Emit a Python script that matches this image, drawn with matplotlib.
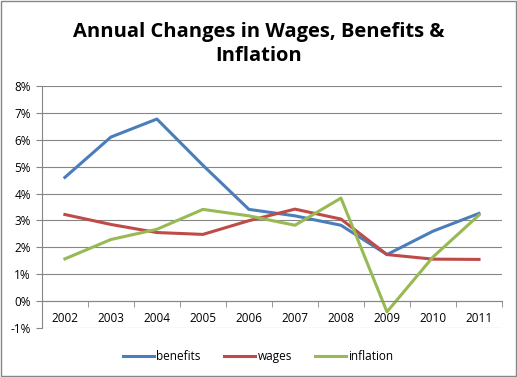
import numpy as np
import matplotlib
matplotlib.use("Agg")
import matplotlib.pyplot as plt
import matplotlib.ticker as mticker

# data (percent)
years = ["2002", "2003", "2004", "2005", "2006", "2007", "2008", "2009", "2010", "2011"]
benefits = [4.6, 6.1, 6.77, 5.05, 3.41, 3.17, 2.82, 1.73, 2.6, 3.26]
wages = [3.22, 2.85, 2.55, 2.48, 2.99, 3.42, 3.05, 1.73, 1.56, 1.55]
inflation = [1.57, 2.29, 2.67, 3.41, 3.17, 2.82, 3.83, -0.4, 1.64, 3.2]

plt.rcParams['font.family'] = ['Open Sans', 'DejaVu Sans']

fig = plt.figure(figsize=(5.17, 3.77), dpi=100)
ax = fig.add_axes([0.081, 0.130, 0.890, 0.642])

x = np.arange(len(years))
ax.plot(x, benefits, color="#4A7EBB", lw=2.2, label="benefits", solid_joinstyle="round")
ax.plot(x, wages, color="#BE4B48", lw=2.2, label="wages", solid_joinstyle="round")
ax.plot(x, inflation, color="#98B954", lw=2.2, label="inflation", solid_joinstyle="round")

ax.set_xlim(-0.5, len(years) - 0.5)
ax.set_ylim(-1, 8)
ax.set_yticks(np.arange(-1, 9, 1))
ax.yaxis.set_major_formatter(mticker.FuncFormatter(lambda v, p: f"{int(v)}%"))
ax.grid(axis="y", color="#868686", lw=0.8)
ax.set_axisbelow(True)

# category axis sits at 0 with tick marks between categories
ax.spines["bottom"].set_position(("data", 0))
ax.spines["bottom"].set_color("#868686")
ax.spines["left"].set_color("#868686")
ax.spines["top"].set_visible(False)
ax.spines["right"].set_visible(False)
ax.set_xticks(x)
ax.set_xticklabels(years)
ax.set_xticks(np.arange(-0.5, len(years)), minor=True)
ax.tick_params(axis="x", which="major", length=0, pad=8, labelsize=8.5)
ax.tick_params(axis="x", which="minor", length=4, color="#868686", direction="out")
ax.tick_params(axis="y", length=4, color="#868686", labelsize=8.5, pad=4)

fig.text(0.5, 0.884, "Annual Changes in Wages, Benefits &\nInflation", ha="center", va="center",
         fontsize=14.5, fontweight="bold", linespacing=1.25)

fig.legend(loc="center", bbox_to_anchor=(0.5, 0.055), ncol=3, frameon=False, fontsize=8.5,
           handlelength=2.6, columnspacing=2.0, handletextpad=0.2)

border = plt.Rectangle((0.002, 0.003), 0.996, 0.994, transform=fig.transFigure, fill=False,
                       edgecolor="#868686", lw=1.0)
fig.add_artist(border)

fig.savefig("out.png", dpi=100)
